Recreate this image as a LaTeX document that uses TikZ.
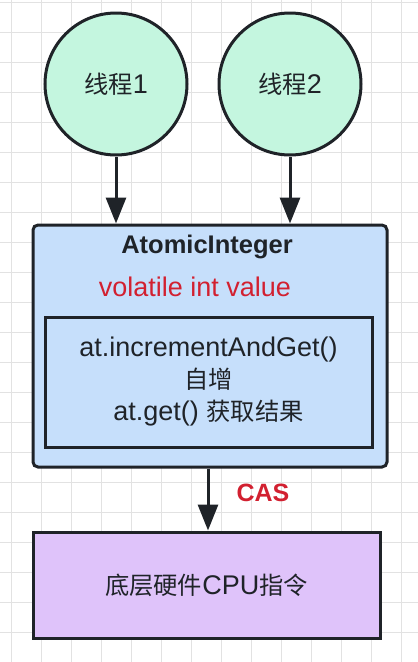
\documentclass[tikz,border=0pt]{standalone}
\usepackage{fontspec}
\setmainfont{Liberation Sans}
\newfontfamily\cjk[Scale=0.9]{Noto Sans CJK SC}
\usetikzlibrary{arrows.meta}
\definecolor{mint}{HTML}{C4F6DF}
\definecolor{lightblue}{HTML}{C6DFFB}
\definecolor{lavender}{HTML}{DFC3FA}
\definecolor{redtext}{HTML}{D22030}
\definecolor{ink}{HTML}{1F2328}
\definecolor{gridgray}{HTML}{E2E2E2}
\tikzset{
  gridline/.style={gridgray, line width=1pt},
  border/.style={draw=ink, line width=3pt},
  thread/.style={border, circle, fill=mint, minimum size=142pt, inner sep=0pt, text=ink},
  outerbox/.style={border, rectangle, rounded corners=5pt, fill=lightblue, minimum width=354pt, minimum height=242pt},
  innerbox/.style={border, rectangle, fill=lightblue, minimum width=327pt, minimum height=130pt, align=center, text=ink},
  cpubox/.style={border, rectangle, fill=lavender, minimum width=347pt, minimum height=106pt, text=ink},
  arr/.style={draw=ink, line width=3pt, -{Triangle[length=26pt,width=20pt]}},
  txt/.style={font=\fontsize{27}{32}\selectfont}
}
\begin{document}
\begin{tikzpicture}[x=1pt,y=-1pt]
\useasboundingbox (0,0) rectangle (418,662);
\fill[white] (0,0) rectangle (418,662);
\foreach \x in {11,41,...,401} \draw[gridline] (\x,0) -- (\x,662);
\foreach \y in {2,32,...,662} \draw[gridline] (0,\y) -- (418,\y);

\node[thread, txt] (t1) at (116,84) {{\cjk 线程}1};
\node[thread, txt] (t2) at (290,84) {{\cjk 线程}2};

\node[outerbox] (outer) at (210,346) {};
\node[font=\fontsize{25.5}{30}\selectfont\bfseries, text=ink] (title) at (207,247) {AtomicInteger};
\node[txt, text=redtext] (field) at (195,287) {volatile int value};
\node[innerbox, txt] (inner) at (208.5,382) {at.incrementAndGet()\\{\cjk 自增}\\at.get() {\cjk 获取结果}};

\node[cpubox, txt] (cpu) at (206.5,585) {{\cjk 底层硬件}CPU{\cjk 指令}};
\node[font=\fontsize{25}{30}\selectfont\bfseries, text=redtext] (cas) at (263,493) {CAS};

\draw[arr] (t1.south) -- (t1.south |- outer.north);
\draw[arr] (t2.south) -- (t2.south |- outer.north);
\draw[arr] ([xshift=-2pt]outer.south) -- ([xshift=-2pt]outer.south |- cpu.north);
\end{tikzpicture}
\end{document}
